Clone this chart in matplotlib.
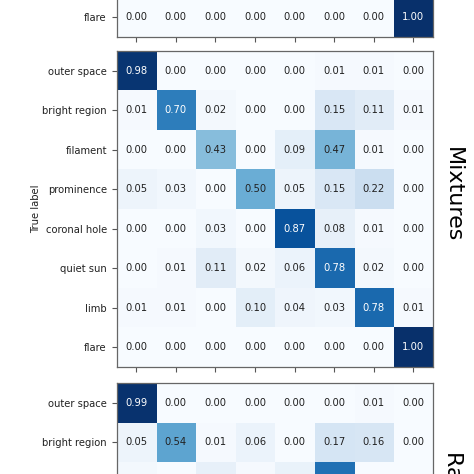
import numpy as np
import matplotlib
matplotlib.use("Agg")
import matplotlib.pyplot as plt

# =============================================================================
# Data (values read from the confusion matrices)
# =============================================================================

classes = ["outer space", "bright region", "filament", "prominence",
           "coronal hole", "quiet sun", "limb", "flare"]

# top matrix: only its last row is visible
top_rows = ["flare"]
top_cm = np.array([
    [0.00, 0.00, 0.00, 0.00, 0.00, 0.00, 0.00, 1.00],
])

mix_rows = classes
mix_cm = np.array([
    [0.98, 0.00, 0.00, 0.00, 0.00, 0.01, 0.01, 0.00],
    [0.01, 0.70, 0.02, 0.00, 0.00, 0.15, 0.11, 0.01],
    [0.00, 0.00, 0.43, 0.00, 0.09, 0.47, 0.01, 0.00],
    [0.05, 0.03, 0.00, 0.50, 0.05, 0.15, 0.22, 0.00],
    [0.00, 0.00, 0.03, 0.00, 0.87, 0.08, 0.01, 0.00],
    [0.00, 0.01, 0.11, 0.02, 0.06, 0.78, 0.02, 0.00],
    [0.01, 0.01, 0.00, 0.10, 0.04, 0.03, 0.78, 0.01],
    [0.00, 0.00, 0.00, 0.00, 0.00, 0.00, 0.00, 1.00],
])

# bottom matrix: first rows visible, third only partly (colours estimated)
rf_rows = ["outer space", "bright region", "filament"]
rf_cm = np.array([
    [0.99, 0.00, 0.00, 0.00, 0.00, 0.00, 0.01, 0.00],
    [0.05, 0.54, 0.01, 0.06, 0.00, 0.17, 0.16, 0.00],
    [0.02, 0.00, 0.08, 0.01, 0.07, 0.75, 0.00, 0.00],
])

# =============================================================================
# Plot
# =============================================================================

W = H = 474
fig = plt.figure(figsize=(4.74, 4.74), dpi=100)

left, width = 116.5 / W, 316.5 / W
cell = 39.5


def frame(top_px, nrows):
    bottom_px = top_px + nrows * cell
    return [left, 1 - bottom_px / H, width, nrows * cell / H]


def draw_cm(ax, cm, rows, n_annot=None):
    ax.imshow(cm, cmap=plt.cm.Blues, vmin=0, vmax=1, aspect="auto",
              interpolation="nearest")
    n_annot = cm.shape[0] if n_annot is None else n_annot
    for i in range(n_annot):
        for j in range(cm.shape[1]):
            ax.text(j, i, f"{cm[i, j]:.2f}", ha="center", va="center",
                    fontsize=7.2, color="white" if cm[i, j] > 0.6 else "#222222")
    ax.set_xticks(np.arange(len(classes)))
    ax.set_xticklabels([])
    ax.set_yticks(np.arange(len(rows)))
    ax.set_yticklabels(rows, fontsize=7.2, color="#222222")
    ax.tick_params(length=3.5, width=0.8, color="#555555")
    for s in ax.spines.values():
        s.set_color("#666666")
        s.set_linewidth(0.9)


ax_top = fig.add_axes(frame(-2.5, 1))
draw_cm(ax_top, top_cm, top_rows)

ax_mix = fig.add_axes(frame(51, 8))
draw_cm(ax_mix, mix_cm, mix_rows)
ax_mix.set_ylabel("True label", fontsize=7.2, color="#222222", labelpad=0.5)

# third row of the bottom matrix is cut by the figure edge: no numbers shown
ax_rf = fig.add_axes(frame(383, 3))
draw_cm(ax_rf, rf_cm, rf_rows, n_annot=2)

fig.text(453 / W, 1 - 195 / H, "Mixtures", rotation=-90, fontsize=16,
         ha="center", va="center")
fig.text(453 / W, 1 - 451 / H, "Random Forest", rotation=-90, fontsize=16,
         ha="center", va="top")

plt.savefig("out.png", dpi=100)
plt.close()
